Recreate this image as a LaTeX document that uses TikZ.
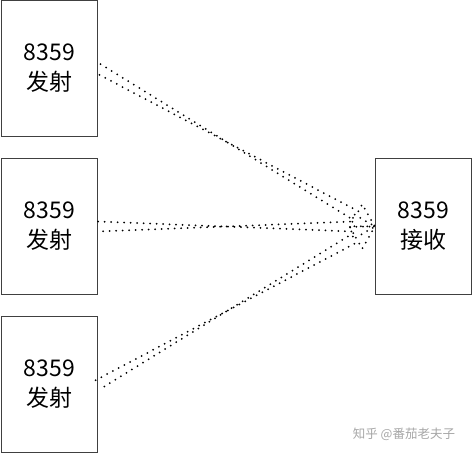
\documentclass[tikz,border=0pt]{standalone}
\usepackage{fontspec}
\setmainfont{Noto Sans CJK SC}
\usetikzlibrary{calc}

\tikzset{
  box/.style={draw=black!75, line width=1.2pt, fill=white, minimum width=96pt,
    minimum height=136pt, inner sep=0pt, align=center,
    font=\fontsize{23}{30}\selectfont},
  flow/.style={line width=2pt, line cap=round, dash pattern=on 0pt off 6.5pt},
}

% hollow dotted arrow from #1 to #2
\newcommand{\hollowarrow}[2]{%
  \coordinate (h) at ($(#2)!22pt!(#1)$);
  \draw[flow] ($(#1)!5pt!90:(#2)$) -- ($(h)!5pt!-90:(#2)$)
    -- ($(h)!13pt!-90:(#2)$) -- (#2) -- ($(h)!13pt!90:(#2)$)
    -- ($(h)!5pt!90:(#2)$) -- ($(#1)!5pt!-90:(#2)$);
}

\begin{document}
\begin{tikzpicture}[x=1pt, y=-1pt]
  \useasboundingbox (0,0) rectangle (474,455);

  \foreach \i in {1,2,3} {
    \node[box] (tx\i) at (49.5, {68.5+158*(\i-1)}) {8359\\发射};
  }
  \node[box] (rx) at (423.5, 226.5) {8359\\接收};

  \foreach \i in {1,2,3} {
    \hollowarrow{tx\i.east}{rx.west}
  }

  \node[text=black!35, font=\fontsize{12.5}{14}\selectfont] (mark) at (404, 434) {知乎 @番茄老夫子};
\end{tikzpicture}
\end{document}
